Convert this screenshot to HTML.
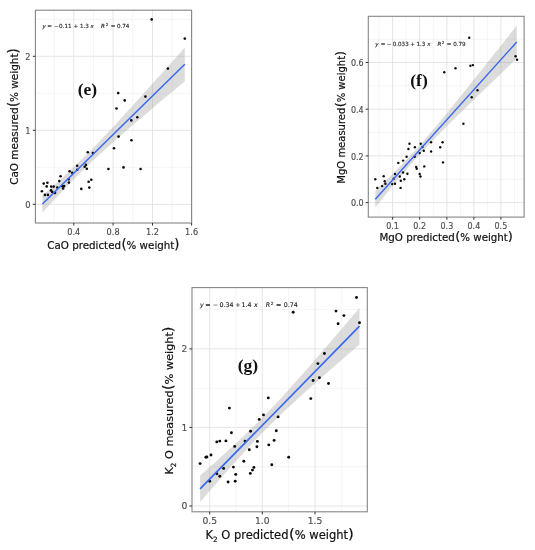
<!DOCTYPE html>
<html lang="en">
<head>
<meta charset="utf-8">
<title>Measured vs predicted oxide content</title>
<style>
html,body{margin:0;padding:0;background:#fff;}
body{width:535px;height:550px;overflow:hidden;}
svg{display:block;}
text{font-family:"DejaVu Sans","Liberation Sans",sans-serif;}
.tick{fill:#4d4d4d;stroke:#4d4d4d;stroke-width:0.15px;}
.title{fill:#111;stroke:#111;stroke-width:0.2px;}
.eq{fill:#222;stroke:#222;stroke-width:0.12px;}
.eq .it{font-style:italic;}
.lab{font-family:"Liberation Serif","DejaVu Serif",serif;font-weight:bold;fill:#111;}
.gmaj{stroke:#e2e2e2;stroke-width:0.9;}
.gmin{stroke:#ececec;stroke-width:0.6;}
.frame{fill:none;stroke:#858585;stroke-width:1.1;}
.tk{stroke:#333;stroke-width:1;}
.band{fill:#999;fill-opacity:0.34;}
.fit{stroke:#3a68f0;fill:none;}
.pt{fill:#0a0a0a;}
</style>
</head>
<body>
<svg width="535" height="550" viewBox="0 0 535 550">
<rect x="0" y="0" width="535" height="550" fill="#ffffff"/>
<g id="plot-e">
<rect x="35.4" y="10.2" width="156.2" height="212.8" fill="#fff"/>
<line class="gmin" x1="35.4" x2="191.6" y1="167.3" y2="167.3"/>
<line class="gmin" x1="35.4" x2="191.6" y1="93.3" y2="93.3"/>
<line class="gmin" x1="35.4" x2="191.6" y1="19.3" y2="19.3"/>
<line class="gmin" x1="54.2" x2="54.2" y1="10.2" y2="223"/>
<line class="gmin" x1="93.5" x2="93.5" y1="10.2" y2="223"/>
<line class="gmin" x1="132.8" x2="132.8" y1="10.2" y2="223"/>
<line class="gmin" x1="172" x2="172" y1="10.2" y2="223"/>
<line class="gmaj" x1="35.4" x2="191.6" y1="204.3" y2="204.3"/>
<line class="gmaj" x1="35.4" x2="191.6" y1="130.3" y2="130.3"/>
<line class="gmaj" x1="35.4" x2="191.6" y1="56.3" y2="56.3"/>
<line class="gmaj" x1="73.8" x2="73.8" y1="10.2" y2="223"/>
<line class="gmaj" x1="113.1" x2="113.1" y1="10.2" y2="223"/>
<line class="gmaj" x1="152.5" x2="152.5" y1="10.2" y2="223"/>
<line class="gmaj" x1="191.6" x2="191.6" y1="10.2" y2="223"/>
<path class="band" d="M42.4 195.4 L45.96 192.29 L49.52 189.16 L53.08 186.01 L56.64 182.83 L60.2 179.63 L63.76 176.39 L67.32 173.12 L70.88 169.8 L74.44 166.44 L78 163.04 L81.56 159.58 L85.12 156.08 L88.68 152.52 L92.24 148.92 L95.8 145.27 L99.36 141.57 L102.92 137.84 L106.48 134.08 L110.04 130.28 L113.6 126.46 L117.16 122.61 L120.72 118.74 L124.28 114.86 L127.84 110.96 L131.4 107.04 L134.96 103.11 L138.52 99.17 L142.08 95.22 L145.64 91.27 L149.2 87.3 L152.76 83.33 L156.32 79.36 L159.88 75.38 L163.44 71.39 L167 67.4 L170.56 63.41 L174.12 59.41 L177.68 55.41 L181.24 51.41 L184.8 47.41 L184.8 81.19 L181.24 84.17 L177.68 87.16 L174.12 90.14 L170.56 93.13 L167 96.12 L163.44 99.12 L159.88 102.12 L156.32 105.12 L152.76 108.13 L149.2 111.15 L145.64 114.17 L142.08 117.2 L138.52 120.23 L134.96 123.28 L131.4 126.34 L127.84 129.4 L124.28 132.49 L120.72 135.59 L117.16 138.7 L113.6 141.84 L110.04 145 L106.48 148.19 L102.92 151.41 L99.36 154.67 L95.8 157.96 L92.24 161.29 L88.68 164.68 L85.12 168.1 L81.56 171.58 L78 175.11 L74.44 178.69 L70.88 182.32 L67.32 185.99 L63.76 189.7 L60.2 193.45 L56.64 197.23 L53.08 201.04 L49.52 204.87 L45.96 208.73 L42.4 212.6 Z"/>
<circle class="pt" cx="151.7" cy="19.4" r="1.3"/>
<circle class="pt" cx="184.8" cy="38.6" r="1.3"/>
<circle class="pt" cx="167.9" cy="68.6" r="1.3"/>
<circle class="pt" cx="118.2" cy="93.1" r="1.3"/>
<circle class="pt" cx="124.7" cy="100.4" r="1.3"/>
<circle class="pt" cx="116.5" cy="108.5" r="1.3"/>
<circle class="pt" cx="145.4" cy="96.6" r="1.3"/>
<circle class="pt" cx="131.3" cy="120.4" r="1.3"/>
<circle class="pt" cx="137.3" cy="117.3" r="1.3"/>
<circle class="pt" cx="118.6" cy="136.6" r="1.3"/>
<circle class="pt" cx="131.4" cy="140.2" r="1.3"/>
<circle class="pt" cx="114" cy="148.3" r="1.3"/>
<circle class="pt" cx="108.4" cy="169" r="1.3"/>
<circle class="pt" cx="123.5" cy="167.4" r="1.3"/>
<circle class="pt" cx="140.6" cy="169" r="1.3"/>
<circle class="pt" cx="87.8" cy="152.3" r="1.3"/>
<circle class="pt" cx="92.9" cy="153.1" r="1.3"/>
<circle class="pt" cx="77.2" cy="165.7" r="1.3"/>
<circle class="pt" cx="85.9" cy="164.9" r="1.3"/>
<circle class="pt" cx="84.7" cy="166.8" r="1.3"/>
<circle class="pt" cx="86.8" cy="168.8" r="1.3"/>
<circle class="pt" cx="69.6" cy="171.2" r="1.3"/>
<circle class="pt" cx="72.2" cy="172.7" r="1.3"/>
<circle class="pt" cx="77.2" cy="169.7" r="1.3"/>
<circle class="pt" cx="60.6" cy="176.3" r="1.3"/>
<circle class="pt" cx="59.3" cy="181.1" r="1.3"/>
<circle class="pt" cx="68.6" cy="179.3" r="1.3"/>
<circle class="pt" cx="68.9" cy="182.6" r="1.3"/>
<circle class="pt" cx="88.6" cy="181.8" r="1.3"/>
<circle class="pt" cx="91.3" cy="179.8" r="1.3"/>
<circle class="pt" cx="43.7" cy="183.6" r="1.3"/>
<circle class="pt" cx="47.4" cy="182.8" r="1.3"/>
<circle class="pt" cx="46.7" cy="186.4" r="1.3"/>
<circle class="pt" cx="51.2" cy="186.6" r="1.3"/>
<circle class="pt" cx="53.7" cy="186.6" r="1.3"/>
<circle class="pt" cx="57.3" cy="187.6" r="1.3"/>
<circle class="pt" cx="62.1" cy="186.1" r="1.3"/>
<circle class="pt" cx="64.1" cy="186.1" r="1.3"/>
<circle class="pt" cx="63.1" cy="188.4" r="1.3"/>
<circle class="pt" cx="81.3" cy="188.9" r="1.3"/>
<circle class="pt" cx="89.3" cy="187.6" r="1.3"/>
<circle class="pt" cx="41.9" cy="191.2" r="1.3"/>
<circle class="pt" cx="51" cy="190.4" r="1.3"/>
<circle class="pt" cx="52.2" cy="191.9" r="1.3"/>
<circle class="pt" cx="55" cy="192.9" r="1.3"/>
<circle class="pt" cx="44.9" cy="194.9" r="1.3"/>
<circle class="pt" cx="47.9" cy="194.9" r="1.3"/>
<line class="fit" stroke-width="1.5" x1="42.4" y1="204" x2="184.8" y2="64.3"/>
<rect class="frame" x="35.4" y="10.2" width="156.2" height="212.8"/>
<line class="tk" x1="73.8" x2="73.8" y1="223" y2="225.6"/>
<text class="tick" font-size="8.2" text-anchor="middle" x="73.8" y="235">0.4</text>
<line class="tk" x1="113.1" x2="113.1" y1="223" y2="225.6"/>
<text class="tick" font-size="8.2" text-anchor="middle" x="113.1" y="235">0.8</text>
<line class="tk" x1="152.5" x2="152.5" y1="223" y2="225.6"/>
<text class="tick" font-size="8.2" text-anchor="middle" x="152.5" y="235">1.2</text>
<line class="tk" x1="191.6" x2="191.6" y1="223" y2="225.6"/>
<text class="tick" font-size="8.2" text-anchor="middle" x="191.6" y="235">1.6</text>
<line class="tk" x1="32.8" x2="35.4" y1="204.3" y2="204.3"/>
<text class="tick" font-size="8.2" text-anchor="end" x="30.4" y="207.89">0</text>
<line class="tk" x1="32.8" x2="35.4" y1="130.3" y2="130.3"/>
<text class="tick" font-size="8.2" text-anchor="end" x="30.4" y="133.89">1</text>
<line class="tk" x1="32.8" x2="35.4" y1="56.3" y2="56.3"/>
<text class="tick" font-size="8.2" text-anchor="end" x="30.4" y="59.89">2</text>
<text class="title" font-size="10.3" text-anchor="middle" x="113.4" y="248.7">CaO predicted<tspan font-size="13.2" dx="0.4">(</tspan>% weight<tspan font-size="13.2">)</tspan></text>
<text class="title" font-size="10.45" text-anchor="middle" transform="translate(18.2 116.6) rotate(-90)">CaO measured<tspan font-size="13.2" dx="0.4">(</tspan>% weight<tspan font-size="13.2">)</tspan></text>
<text class="eq" font-size="5.6" text-anchor="middle" y="27.7"><tspan x="45.09" class="it">y</tspan> <tspan x="50.49">=</tspan> <tspan x="57.19">−</tspan> <tspan x="66.19">0.11</tspan> <tspan x="76.69">+</tspan> <tspan x="85.29">1.3</tspan> <tspan x="92.99" class="it">x</tspan> <tspan x="102.9" class="it">R</tspan><tspan x="107.79" dy="-2.1" font-size="3.92">2</tspan> <tspan x="113.99" dy="2.1">=</tspan> <tspan x="123.2">0.74</tspan></text>
<text class="lab" font-size="17.5" text-anchor="middle" x="87.4" y="94.5">(e)</text>
</g>
<g id="plot-f">
<rect x="368.3" y="16.3" width="155.8" height="200.8" fill="#fff"/>
<line class="gmin" x1="368.3" x2="524.1" y1="179.2" y2="179.2"/>
<line class="gmin" x1="368.3" x2="524.1" y1="132.5" y2="132.5"/>
<line class="gmin" x1="368.3" x2="524.1" y1="85.8" y2="85.8"/>
<line class="gmin" x1="368.3" x2="524.1" y1="39.2" y2="39.2"/>
<line class="gmin" x1="379" x2="379" y1="16.3" y2="217.1"/>
<line class="gmin" x1="406.1" x2="406.1" y1="16.3" y2="217.1"/>
<line class="gmin" x1="433.3" x2="433.3" y1="16.3" y2="217.1"/>
<line class="gmin" x1="460.4" x2="460.4" y1="16.3" y2="217.1"/>
<line class="gmin" x1="487.4" x2="487.4" y1="16.3" y2="217.1"/>
<line class="gmin" x1="514.5" x2="514.5" y1="16.3" y2="217.1"/>
<line class="gmaj" x1="368.3" x2="524.1" y1="202.6" y2="202.6"/>
<line class="gmaj" x1="368.3" x2="524.1" y1="155.9" y2="155.9"/>
<line class="gmaj" x1="368.3" x2="524.1" y1="109.2" y2="109.2"/>
<line class="gmaj" x1="368.3" x2="524.1" y1="62.5" y2="62.5"/>
<line class="gmaj" x1="392.6" x2="392.6" y1="16.3" y2="217.1"/>
<line class="gmaj" x1="419.7" x2="419.7" y1="16.3" y2="217.1"/>
<line class="gmaj" x1="446.9" x2="446.9" y1="16.3" y2="217.1"/>
<line class="gmaj" x1="473.9" x2="473.9" y1="16.3" y2="217.1"/>
<line class="gmaj" x1="500.9" x2="500.9" y1="16.3" y2="217.1"/>
<path class="band" d="M375.3 191.1 L378.84 187.62 L382.38 184.13 L385.91 180.62 L389.45 177.1 L392.99 173.54 L396.52 169.95 L400.06 166.33 L403.6 162.67 L407.14 158.95 L410.68 155.18 L414.21 151.34 L417.75 147.44 L421.29 143.47 L424.82 139.43 L428.36 135.33 L431.9 131.18 L435.44 126.97 L438.97 122.73 L442.51 118.45 L446.05 114.14 L449.59 109.8 L453.12 105.45 L456.66 101.07 L460.2 96.69 L463.74 92.29 L467.27 87.88 L470.81 83.46 L474.35 79.03 L477.89 74.6 L481.42 70.16 L484.96 65.72 L488.5 61.27 L492.04 56.82 L495.57 52.37 L499.11 47.91 L502.65 43.45 L506.19 38.99 L509.72 34.53 L513.26 30.06 L516.8 25.6 L516.8 58.4 L513.26 61.8 L509.72 65.19 L506.19 68.59 L502.65 71.99 L499.11 75.39 L495.57 78.79 L492.04 82.2 L488.5 85.61 L484.96 89.02 L481.42 92.44 L477.89 95.86 L474.35 99.29 L470.81 102.72 L467.27 106.16 L463.74 109.61 L460.2 113.07 L456.66 116.55 L453.12 120.03 L449.59 123.54 L446.05 127.06 L442.51 130.61 L438.97 134.19 L435.44 137.81 L431.9 141.46 L428.36 145.17 L424.82 148.93 L421.29 152.75 L417.75 156.64 L414.21 160.6 L410.68 164.62 L407.14 168.71 L403.6 172.85 L400.06 177.05 L396.52 181.29 L392.99 185.56 L389.45 189.86 L385.91 194.2 L382.38 198.55 L378.84 202.92 L375.3 207.3 Z"/>
<circle class="pt" cx="469.2" cy="37.8" r="1.2"/>
<circle class="pt" cx="444.3" cy="72.3" r="1.2"/>
<circle class="pt" cx="455.5" cy="68.3" r="1.2"/>
<circle class="pt" cx="470.4" cy="65.8" r="1.2"/>
<circle class="pt" cx="472.9" cy="65.1" r="1.2"/>
<circle class="pt" cx="515.6" cy="56.2" r="1.2"/>
<circle class="pt" cx="517.1" cy="59.7" r="1.2"/>
<circle class="pt" cx="477.5" cy="90.2" r="1.2"/>
<circle class="pt" cx="471.7" cy="97.3" r="1.2"/>
<circle class="pt" cx="463.4" cy="123.7" r="1.2"/>
<circle class="pt" cx="409.5" cy="143.8" r="1.2"/>
<circle class="pt" cx="420.7" cy="143.8" r="1.2"/>
<circle class="pt" cx="431.1" cy="142.3" r="1.2"/>
<circle class="pt" cx="442.6" cy="142.3" r="1.2"/>
<circle class="pt" cx="414.9" cy="147.3" r="1.2"/>
<circle class="pt" cx="422.5" cy="147" r="1.2"/>
<circle class="pt" cx="408.4" cy="149" r="1.2"/>
<circle class="pt" cx="423.8" cy="150.8" r="1.2"/>
<circle class="pt" cx="431.1" cy="151.5" r="1.2"/>
<circle class="pt" cx="440.2" cy="147.3" r="1.2"/>
<circle class="pt" cx="419.7" cy="153.1" r="1.2"/>
<circle class="pt" cx="406.6" cy="156.8" r="1.2"/>
<circle class="pt" cx="414.7" cy="156.8" r="1.2"/>
<circle class="pt" cx="403.1" cy="160.6" r="1.2"/>
<circle class="pt" cx="398.3" cy="162.9" r="1.2"/>
<circle class="pt" cx="443" cy="162.4" r="1.2"/>
<circle class="pt" cx="424.3" cy="166.4" r="1.2"/>
<circle class="pt" cx="416.2" cy="166.9" r="1.2"/>
<circle class="pt" cx="416.7" cy="168.7" r="1.2"/>
<circle class="pt" cx="375.3" cy="179.3" r="1.2"/>
<circle class="pt" cx="383.7" cy="176.3" r="1.2"/>
<circle class="pt" cx="395" cy="174" r="1.2"/>
<circle class="pt" cx="403.1" cy="172.5" r="1.2"/>
<circle class="pt" cx="407.4" cy="173.7" r="1.2"/>
<circle class="pt" cx="399.8" cy="176.5" r="1.2"/>
<circle class="pt" cx="419.7" cy="174" r="1.2"/>
<circle class="pt" cx="420.5" cy="176.5" r="1.2"/>
<circle class="pt" cx="393.7" cy="178.8" r="1.2"/>
<circle class="pt" cx="404.3" cy="179.3" r="1.2"/>
<circle class="pt" cx="400.8" cy="180.8" r="1.2"/>
<circle class="pt" cx="384.7" cy="181.3" r="1.2"/>
<circle class="pt" cx="385.4" cy="183.8" r="1.2"/>
<circle class="pt" cx="392.2" cy="184.1" r="1.2"/>
<circle class="pt" cx="395" cy="183.8" r="1.2"/>
<circle class="pt" cx="382.1" cy="186.1" r="1.2"/>
<circle class="pt" cx="377.3" cy="187.9" r="1.2"/>
<circle class="pt" cx="400.6" cy="187.9" r="1.2"/>
<line class="fit" stroke-width="1.4" x1="375.3" y1="199.2" x2="516.8" y2="42"/>
<rect class="frame" x="368.3" y="16.3" width="155.8" height="200.8"/>
<line class="tk" x1="392.6" x2="392.6" y1="217.1" y2="219.7"/>
<text class="tick" font-size="8" text-anchor="middle" x="392.6" y="228.5">0.1</text>
<line class="tk" x1="419.7" x2="419.7" y1="217.1" y2="219.7"/>
<text class="tick" font-size="8" text-anchor="middle" x="419.7" y="228.5">0.2</text>
<line class="tk" x1="446.9" x2="446.9" y1="217.1" y2="219.7"/>
<text class="tick" font-size="8" text-anchor="middle" x="446.9" y="228.5">0.3</text>
<line class="tk" x1="473.9" x2="473.9" y1="217.1" y2="219.7"/>
<text class="tick" font-size="8" text-anchor="middle" x="473.9" y="228.5">0.4</text>
<line class="tk" x1="500.9" x2="500.9" y1="217.1" y2="219.7"/>
<text class="tick" font-size="8" text-anchor="middle" x="500.9" y="228.5">0.5</text>
<line class="tk" x1="365.7" x2="368.3" y1="202.6" y2="202.6"/>
<text class="tick" font-size="8" text-anchor="end" x="363.7" y="206.42">0.0</text>
<line class="tk" x1="365.7" x2="368.3" y1="155.9" y2="155.9"/>
<text class="tick" font-size="8" text-anchor="end" x="363.7" y="159.72">0.2</text>
<line class="tk" x1="365.7" x2="368.3" y1="109.2" y2="109.2"/>
<text class="tick" font-size="8" text-anchor="end" x="363.7" y="113.02">0.4</text>
<line class="tk" x1="365.7" x2="368.3" y1="62.5" y2="62.5"/>
<text class="tick" font-size="8" text-anchor="end" x="363.7" y="66.32">0.6</text>
<text class="title" font-size="10.25" text-anchor="middle" x="446.2" y="240.9">MgO predicted<tspan font-size="13" dx="0.4">(</tspan>% weight<tspan font-size="13">)</tspan></text>
<text class="title" font-size="10" text-anchor="middle" transform="translate(344.6 117.3) rotate(-90)">MgO measured<tspan font-size="12.68" dx="0.4">(</tspan>% weight<tspan font-size="12.68">)</tspan></text>
<text class="eq" font-size="5.6" text-anchor="middle" y="45.6"><tspan x="377.89" class="it">y</tspan> <tspan x="383.99">=</tspan> <tspan x="390.09">−</tspan> <tspan x="401.59">0.033</tspan> <tspan x="413.39">+</tspan> <tspan x="421.79">1.3</tspan> <tspan x="429.79" class="it">x</tspan> <tspan x="439.4" class="it">R</tspan><tspan x="443.79" dy="-2.1" font-size="3.92">2</tspan> <tspan x="449.89" dy="2.1">=</tspan> <tspan x="459.4">0.79</tspan></text>
<text class="lab" font-size="17.5" text-anchor="middle" x="419" y="86.2">(f)</text>
</g>
<g id="plot-g">
<rect x="192" y="287.6" width="175.3" height="224.2" fill="#fff"/>
<line class="gmin" x1="192" x2="367.3" y1="466.7" y2="466.7"/>
<line class="gmin" x1="192" x2="367.3" y1="388.2" y2="388.2"/>
<line class="gmin" x1="192" x2="367.3" y1="309.6" y2="309.6"/>
<line class="gmin" x1="236" x2="236" y1="287.6" y2="511.8"/>
<line class="gmin" x1="288.6" x2="288.6" y1="287.6" y2="511.8"/>
<line class="gmin" x1="341.3" x2="341.3" y1="287.6" y2="511.8"/>
<line class="gmaj" x1="192" x2="367.3" y1="506" y2="506"/>
<line class="gmaj" x1="192" x2="367.3" y1="427.4" y2="427.4"/>
<line class="gmaj" x1="192" x2="367.3" y1="348.9" y2="348.9"/>
<line class="gmaj" x1="209.7" x2="209.7" y1="287.6" y2="511.8"/>
<line class="gmaj" x1="262.3" x2="262.3" y1="287.6" y2="511.8"/>
<line class="gmaj" x1="315" x2="315" y1="287.6" y2="511.8"/>
<path class="band" d="M200.1 475.5 L204.09 472 L208.07 468.48 L212.06 464.94 L216.04 461.39 L220.03 457.82 L224.01 454.23 L228 450.61 L231.98 446.96 L235.97 443.27 L239.95 439.55 L243.94 435.79 L247.92 431.97 L251.91 428.11 L255.89 424.19 L259.88 420.2 L263.86 416.16 L267.85 412.05 L271.83 407.88 L275.81 403.66 L279.8 399.38 L283.78 395.04 L287.77 390.66 L291.75 386.24 L295.74 381.78 L299.73 377.29 L303.71 372.77 L307.69 368.23 L311.68 363.67 L315.67 359.08 L319.65 354.48 L323.63 349.86 L327.62 345.24 L331.61 340.6 L335.59 335.95 L339.57 331.29 L343.56 326.62 L347.54 321.95 L351.53 317.27 L355.51 312.59 L359.5 307.9 L359.5 344.5 L355.51 347.94 L351.53 351.39 L347.54 354.84 L343.56 358.3 L339.57 361.76 L335.59 365.23 L331.61 368.71 L327.62 372.2 L323.63 375.71 L319.65 379.22 L315.67 382.75 L311.68 386.29 L307.69 389.86 L303.71 393.45 L299.73 397.06 L295.74 400.7 L291.75 404.37 L287.77 408.08 L283.78 411.83 L279.8 415.62 L275.81 419.47 L271.83 423.38 L267.85 427.34 L263.86 431.36 L259.88 435.45 L255.89 439.59 L251.91 443.8 L247.92 448.07 L243.94 452.38 L239.95 456.75 L235.97 461.16 L231.98 465.6 L228 470.08 L224.01 474.59 L220.03 479.13 L216.04 483.69 L212.06 488.27 L208.07 492.86 L204.09 497.47 L200.1 502.1 Z"/>
<circle class="pt" cx="293.2" cy="312.3" r="1.45"/>
<circle class="pt" cx="268.3" cy="397.9" r="1.45"/>
<circle class="pt" cx="229.4" cy="408.1" r="1.45"/>
<circle class="pt" cx="356.5" cy="297.5" r="1.45"/>
<circle class="pt" cx="336" cy="311.1" r="1.45"/>
<circle class="pt" cx="343.9" cy="315.6" r="1.45"/>
<circle class="pt" cx="338.1" cy="323.7" r="1.45"/>
<circle class="pt" cx="359.5" cy="322.7" r="1.45"/>
<circle class="pt" cx="324.4" cy="353.5" r="1.45"/>
<circle class="pt" cx="317.9" cy="363.6" r="1.45"/>
<circle class="pt" cx="313.1" cy="380.5" r="1.45"/>
<circle class="pt" cx="319.4" cy="377.7" r="1.45"/>
<circle class="pt" cx="328.5" cy="383.5" r="1.45"/>
<circle class="pt" cx="310.8" cy="398.6" r="1.45"/>
<circle class="pt" cx="263.5" cy="414.9" r="1.45"/>
<circle class="pt" cx="259.2" cy="419.4" r="1.45"/>
<circle class="pt" cx="278.1" cy="416.9" r="1.45"/>
<circle class="pt" cx="231.4" cy="432.8" r="1.45"/>
<circle class="pt" cx="250.6" cy="431.3" r="1.45"/>
<circle class="pt" cx="276.3" cy="430.8" r="1.45"/>
<circle class="pt" cx="216.8" cy="441.9" r="1.45"/>
<circle class="pt" cx="219.8" cy="441.1" r="1.45"/>
<circle class="pt" cx="225.9" cy="440.9" r="1.45"/>
<circle class="pt" cx="245" cy="441.1" r="1.45"/>
<circle class="pt" cx="257.4" cy="441.4" r="1.45"/>
<circle class="pt" cx="274.1" cy="440.4" r="1.45"/>
<circle class="pt" cx="234.7" cy="446.4" r="1.45"/>
<circle class="pt" cx="256.9" cy="446.7" r="1.45"/>
<circle class="pt" cx="268.8" cy="444.9" r="1.45"/>
<circle class="pt" cx="249.3" cy="449.7" r="1.45"/>
<circle class="pt" cx="211" cy="455" r="1.45"/>
<circle class="pt" cx="205.9" cy="457.3" r="1.45"/>
<circle class="pt" cx="206.9" cy="457" r="1.45"/>
<circle class="pt" cx="288.7" cy="457.3" r="1.45"/>
<circle class="pt" cx="200.1" cy="463.6" r="1.45"/>
<circle class="pt" cx="243.8" cy="461.3" r="1.45"/>
<circle class="pt" cx="271.8" cy="464.8" r="1.45"/>
<circle class="pt" cx="223.6" cy="468.4" r="1.45"/>
<circle class="pt" cx="233.4" cy="467.1" r="1.45"/>
<circle class="pt" cx="253.9" cy="467.4" r="1.45"/>
<circle class="pt" cx="252.4" cy="470.1" r="1.45"/>
<circle class="pt" cx="250.3" cy="473.4" r="1.45"/>
<circle class="pt" cx="216.8" cy="473.7" r="1.45"/>
<circle class="pt" cx="235.7" cy="474.4" r="1.45"/>
<circle class="pt" cx="219.8" cy="476.2" r="1.45"/>
<circle class="pt" cx="209.7" cy="481.3" r="1.45"/>
<circle class="pt" cx="228.1" cy="482" r="1.45"/>
<circle class="pt" cx="235.2" cy="481.3" r="1.45"/>
<line class="fit" stroke-width="1.65" x1="200.1" y1="488.8" x2="359.5" y2="326.2"/>
<rect class="frame" x="192" y="287.6" width="175.3" height="224.2"/>
<line class="tk" x1="209.7" x2="209.7" y1="511.8" y2="514.4"/>
<text class="tick" font-size="9.2" text-anchor="middle" x="209.7" y="524">0.5</text>
<line class="tk" x1="262.3" x2="262.3" y1="511.8" y2="514.4"/>
<text class="tick" font-size="9.2" text-anchor="middle" x="262.3" y="524">1.0</text>
<line class="tk" x1="315" x2="315" y1="511.8" y2="514.4"/>
<text class="tick" font-size="9.2" text-anchor="middle" x="315" y="524">1.5</text>
<line class="tk" x1="189.4" x2="192" y1="506" y2="506"/>
<text class="tick" font-size="9.2" text-anchor="end" x="187.4" y="509.16">0</text>
<line class="tk" x1="189.4" x2="192" y1="427.4" y2="427.4"/>
<text class="tick" font-size="9.2" text-anchor="end" x="187.4" y="430.56">1</text>
<line class="tk" x1="189.4" x2="192" y1="348.9" y2="348.9"/>
<text class="tick" font-size="9.2" text-anchor="end" x="187.4" y="352.06">2</text>
<text class="title" font-size="11.5" text-anchor="middle" x="279.6" y="539">K<tspan font-size="7.3" dy="2.5">2</tspan><tspan dy="-2.5"> O predicted</tspan><tspan font-size="14.8" dx="0.4">(</tspan>% weight<tspan font-size="14.8">)</tspan></text>
<text class="title" font-size="11.25" text-anchor="middle" transform="translate(173.3 400.5) rotate(-90)">K<tspan font-size="7.14" dy="2.5">2</tspan><tspan dy="-2.5"> O measured</tspan><tspan font-size="14.48" dx="0.4">(</tspan>% weight<tspan font-size="14.48">)</tspan></text>
<text class="eq" font-size="6.3" text-anchor="middle" y="307.2"><tspan x="202.8" class="it">y</tspan> <tspan x="209">=</tspan> <tspan x="216.4">−</tspan> <tspan x="227.5">0.34</tspan> <tspan x="239">+</tspan> <tspan x="247.5">1.4</tspan> <tspan x="256.9" class="it">x</tspan> <tspan x="268" class="it">R</tspan><tspan x="273.1" dy="-2.1" font-size="4.41">2</tspan> <tspan x="279.7" dy="2.1">=</tspan> <tspan x="290.7">0.74</tspan></text>
<text class="lab" font-size="17.5" text-anchor="middle" x="248" y="371.4">(g)</text>
</g>
</svg>
</body>
</html>
